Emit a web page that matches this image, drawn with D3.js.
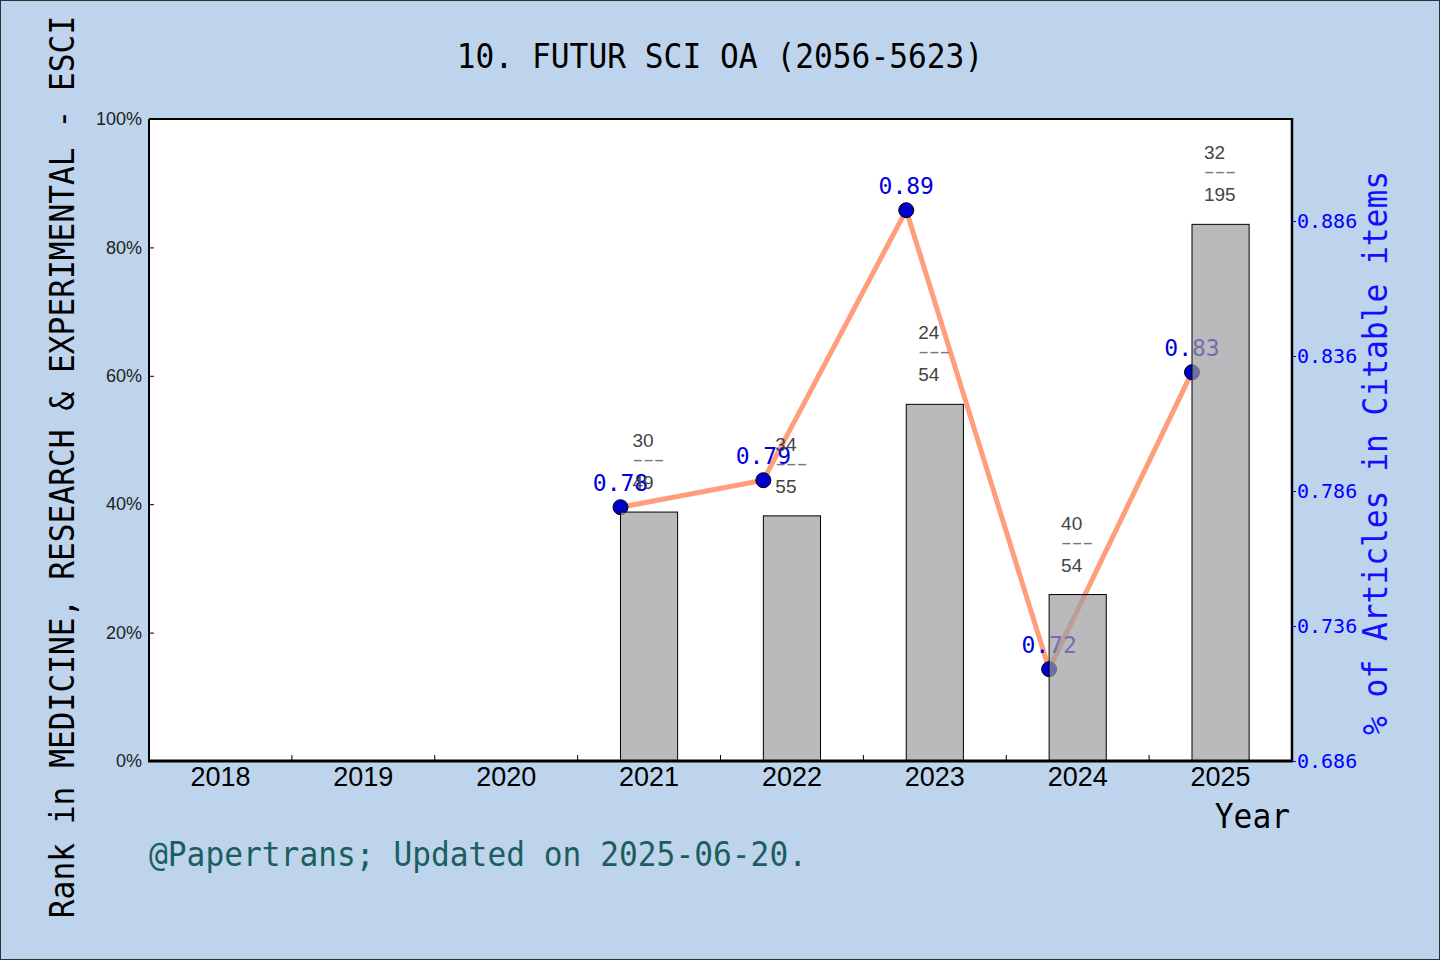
<!DOCTYPE html>
<html>
<head>
<meta charset="utf-8">
<script src="https://cdn.jsdelivr.net/npm/d3@7"></script>
<style>
  html, body { margin: 0; padding: 0; background: #bed4ec; }
  svg { display: block; }
</style>
</head>
<body>
<div id="chart"></div>
<script>
// data
var years = ["2018", "2019", "2020", "2021", "2022", "2023", "2024", "2025"];
var rankYears = ["2021", "2022", "2023", "2024", "2025"];
var rankPos = [30, 34, 24, 40, 32];        // rank in category
var rankTotal = [49, 55, 54, 54, 195];     // journals in category
var citable = [0.78, 0.79, 0.89, 0.72, 0.83];
var pctTicks = [0, 20, 40, 60, 80, 100];
var rightTicks = [0.686, 0.736, 0.786, 0.836, 0.886];

var W = 1440, H = 960;
var margin = {top: 119, right: 148, bottom: 199, left: 149},
    width = W - margin.left - margin.right,
    height = H - margin.top - margin.bottom;

var mono = "'DejaVu Sans Mono', 'Liberation Mono', monospace";
var sans = "'Liberation Sans', Arial, sans-serif";

var svgRoot = d3.select("#chart")
  .append("svg")
    .attr("width", W)
    .attr("height", H);

svgRoot.append("rect")
  .attr("x", 0.5).attr("y", 0.5)
  .attr("width", W - 1).attr("height", H - 1)
  .attr("fill", "#bed4ec")
  .attr("stroke", "#333")
  .attr("stroke-width", 1);

var svg = svgRoot.append("g")
  .attr("transform", "translate(" + margin.left + "," + margin.top + ")");

svg.append("rect")
  .attr("width", width).attr("height", height)
  .attr("fill", "white");

// scales
var x = d3.scaleBand().domain(years).range([0, width]).padding(0);
var y = d3.scaleLinear().domain([0, 100]).range([height, 0]);
var y2 = d3.scaleLinear().domain([0.686, 0.686 + height / 2700]).range([height, 0]);
var barW = x.bandwidth() * 0.4;

var rows = rankYears.map(function(yr, i) {
  return {
    year: yr,
    pos: rankPos[i],
    total: rankTotal[i],
    pct: (1 - rankPos[i] / rankTotal[i]) * 100,
    cit: citable[i]
  };
});

// citable line (drawn under bars)
function px(d) { return x(d.year) + x.bandwidth() / 2 - barW / 2; }

svg.append("path")
  .datum(rows)
  .attr("fill", "none")
  .attr("stroke", "#ff9e7a")
  .attr("stroke-width", 5)
  .attr("stroke-linejoin", "round")
  .attr("d", d3.line()
    .x(px)
    .y(function(d) { return y2(d.cit); }));

svg.selectAll(".pt")
  .data(rows)
  .enter()
  .append("circle")
    .attr("class", "pt")
    .attr("cx", px)
    .attr("cy", function(d) { return y2(d.cit); })
    .attr("r", 7.5)
    .attr("fill", "#0000cc")
    .attr("stroke", "#000")
    .attr("stroke-width", 1);

svg.selectAll(".ptlab")
  .data(rows)
  .enter()
  .append("text")
    .attr("class", "ptlab")
    .attr("x", px)
    .attr("y", function(d) { return y2(d.cit) - 16; })
    .attr("text-anchor", "middle")
    .style("font-family", mono)
    .style("font-size", "23px")
    .attr("fill", "#0000dd")
    .text(function(d) { return d.cit.toFixed(2); });

// bars, half transparent over the line
svg.selectAll(".bar")
  .data(rows)
  .enter()
  .append("rect")
    .attr("class", "bar")
    .attr("x", function(d) { return x(d.year) + x.bandwidth() / 2 - barW / 2; })
    .attr("y", function(d) { return y(d.pct); })
    .attr("width", barW)
    .attr("height", function(d) { return height - y(d.pct); })
    .attr("fill", "rgba(156,157,160,0.7)")
    .attr("stroke", "#000")
    .attr("stroke-width", 1);

// rank fractions above bars
var frac = svg.selectAll(".frac")
  .data(rows)
  .enter()
  .append("g")
    .attr("class", "frac")
    .attr("transform", function(d) {
      return "translate(" + (x(d.year) + x.bandwidth() / 2 - barW / 2 + 12) + "," + y(d.pct) + ")";
    })
    .style("font-family", sans)
    .style("font-size", "19px");

frac.append("text").attr("y", -65).attr("fill", "#444").text(function(d) { return d.pos; });
frac.append("text").attr("y", -46).attr("fill", "#777")
  .attr("textLength", 32).attr("lengthAdjust", "spacingAndGlyphs")
  .text("---");
frac.append("text").attr("y", -23).attr("fill", "#444").text(function(d) { return d.total; });

// left axis
var yAxis = svg.append("g")
  .call(d3.axisLeft(y).tickValues(pctTicks).tickSize(-5).tickPadding(7)
    .tickFormat(function(d) { return d + "%"; }));
yAxis.select(".domain").remove();
yAxis.selectAll("text").style("font-family", sans).style("font-size", "18px").attr("fill", "#222");
yAxis.selectAll("line").attr("stroke", "#000");

// right axis
var rAxis = svg.append("g")
  .attr("transform", "translate(" + width + ",0)")
  .call(d3.axisRight(y2).tickValues(rightTicks).tickSize(4).tickPadding(1)
    .tickFormat(d3.format(".3f")));
rAxis.select(".domain").remove();
rAxis.selectAll("line").attr("stroke", "#0000ff");
rAxis.selectAll("text").style("font-family", mono).style("font-size", "20px").attr("fill", "#0000ff");

// bottom axis: labels at centers, small inward ticks on boundaries
var xAxis = svg.append("g")
  .attr("transform", "translate(0," + height + ")")
  .call(d3.axisBottom(x).tickSize(0).tickPadding(6));
xAxis.select(".domain").remove();
xAxis.selectAll("text").style("font-family", sans).style("font-size", "27px").attr("fill", "#000");

svg.selectAll(".xtick")
  .data(years.slice(1))
  .enter()
  .append("line")
    .attr("class", "xtick")
    .attr("x1", function(d) { return x(d); })
    .attr("x2", function(d) { return x(d); })
    .attr("y1", height)
    .attr("y2", height - 6)
    .attr("stroke", "#000");

// frame
svg.append("line").attr("x1", 0).attr("x2", width).attr("y1", 0).attr("y2", 0)
  .attr("stroke", "#000").attr("stroke-width", 2);
svg.append("line").attr("x1", 0).attr("x2", 0).attr("y1", 0).attr("y2", height)
  .attr("stroke", "#000").attr("stroke-width", 2);
svg.append("line").attr("x1", width).attr("x2", width).attr("y1", -1).attr("y2", height)
  .attr("stroke", "#000").attr("stroke-width", 2.5);
svg.append("line").attr("x1", -1).attr("x2", width + 1).attr("y1", height).attr("y2", height)
  .attr("stroke", "#000").attr("stroke-width", 3);

// texts
function bigText(str, xPos, yPos, anchor, color, rot) {
  var t = svgRoot.append("text")
    .attr("transform", "translate(" + xPos + "," + yPos + ")" + (rot ? " rotate(" + rot + ")" : ""))
    .attr("text-anchor", anchor)
    .attr("textLength", str.length * 18.8)
    .attr("lengthAdjust", "spacingAndGlyphs")
    .style("font-family", mono)
    .style("font-size", "34px")
    .attr("fill", color)
    .text(str);
  return t;
}

bigText("10. FUTUR SCI OA (2056-5623)", 720, 68, "middle", "#000");
bigText("Rank in MEDICINE, RESEARCH & EXPERIMENTAL - ESCI", 74, 467, "middle", "#000", -90);
bigText("% of Articles in Citable items", 1387, 453, "middle", "#1010ff", -90);
bigText("Year", 1290, 828, "end", "#000");
bigText("@Papertrans; Updated on 2025-06-20.", 149, 866, "start", "#1a5e5e");
</script>
</body>
</html>
